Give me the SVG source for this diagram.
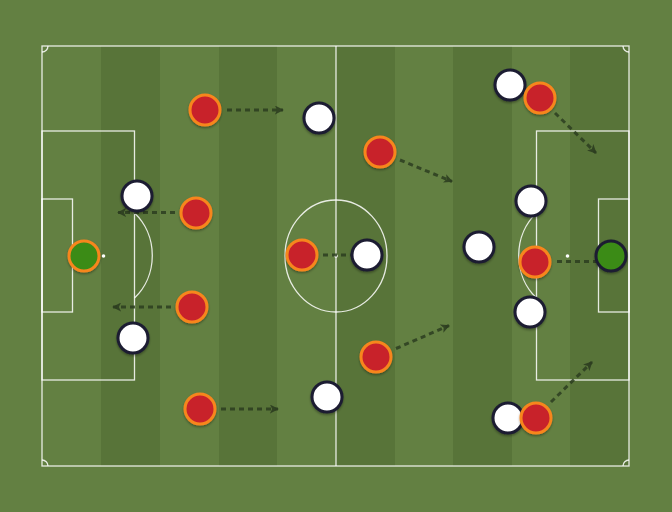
<svg xmlns="http://www.w3.org/2000/svg" width="672" height="512" viewBox="0 0 672 512">
<style>
.ln{fill:none;stroke:#ffffff;stroke-opacity:0.85;stroke-width:1.3}
.dk{fill:#587439}
.ar{fill:none;stroke:#2c3d20;stroke-opacity:0.85;stroke-width:3;stroke-dasharray:5 4}
.red{fill:#c8232c;stroke:#f7861f;stroke-width:3}
.wht{fill:#ffffff;stroke:#1c1d31;stroke-width:3}
.gkr{fill:#3b8b14;stroke:#f7861f;stroke-width:3}
.gkw{fill:#3b8b14;stroke:#1c1d31;stroke-width:3}
</style>
<defs>
<marker id="ah" viewBox="0 0 10 10" markerUnits="userSpaceOnUse" markerWidth="9" markerHeight="9" refX="9" refY="5" orient="auto">
<path d="M0,0 L10,5 L0,10 L2.5,5 z" fill="#2c3d20" fill-opacity="0.9"/>
</marker>
<filter id="sh" x="-30%" y="-30%" width="160%" height="170%">
<feDropShadow dx="0" dy="1.5" stdDeviation="1.2" flood-color="#000" flood-opacity="0.35"/>
</filter>
</defs>
<rect width="672" height="512" fill="#638042"/>
<g id="stripes">
<rect class="dk" x="101" y="46" width="59" height="420"/>
<rect class="dk" x="219" y="46" width="58" height="420"/>
<rect class="dk" x="336" y="46" width="59" height="420"/>
<rect class="dk" x="453" y="46" width="59" height="420"/>
<rect class="dk" x="570" y="46" width="59" height="420"/>
</g>
<g id="pitch">
<rect class="ln" x="42" y="46" width="587" height="420"/>
<line class="ln" x1="336" y1="46" x2="336" y2="466"/>
<ellipse class="ln" cx="336" cy="256" rx="51" ry="56"/>
<rect class="ln" x="42" y="131" width="92.5" height="249"/>
<rect class="ln" x="42" y="199" width="30.5" height="113"/>
<rect class="ln" x="536.5" y="131" width="92.5" height="249"/>
<rect class="ln" x="598.5" y="199" width="30.5" height="113"/>
<path class="ln" d="M134.5,213 A51,56 0 0 1 134.5,298"/>
<path class="ln" d="M536.5,213 A51,56 0 0 0 536.5,298"/>
<circle cx="103.5" cy="256" r="1.8" fill="#fff"/>
<circle cx="567.5" cy="256" r="1.8" fill="#fff"/>
<circle cx="336" cy="256" r="1.8" fill="#fff"/>
<path class="ln" d="M42,52 A6,6 0 0 0 48,46"/>
<path class="ln" d="M623,46 A6,6 0 0 0 629,52"/>
<path class="ln" d="M42,460 A6,6 0 0 1 48,466"/>
<path class="ln" d="M629,460 A6,6 0 0 0 623,466"/>
</g>
<g id="connectors">
<line class="ar" x1="227" y1="110" x2="283" y2="110" marker-end="url(#ah)"/>
<line class="ar" x1="400" y1="160" x2="452" y2="181.5" marker-end="url(#ah)"/>
<line class="ar" x1="175" y1="212.5" x2="118" y2="212.5" marker-end="url(#ah)"/>
<line class="ar" x1="171" y1="307" x2="113" y2="307" marker-end="url(#ah)"/>
<line class="ar" x1="323" y1="255" x2="352" y2="255"/>
<line class="ar" x1="396" y1="348.5" x2="449" y2="325.5" marker-end="url(#ah)"/>
<line class="ar" x1="221" y1="409" x2="278" y2="409" marker-end="url(#ah)"/>
<line class="ar" x1="555" y1="113" x2="596" y2="153" marker-end="url(#ah)"/>
<line class="ar" x1="557" y1="261.5" x2="597" y2="261.5"/>
<line class="ar" x1="551" y1="402" x2="592" y2="362" marker-end="url(#ah)"/>
</g>
<g id="white-team" filter="url(#sh)">
<g id="w1"><circle class="wht" cx="510" cy="85" r="15"/></g>
<g id="w2"><circle class="wht" cx="319" cy="118" r="15"/></g>
<g id="w3"><circle class="wht" cx="137" cy="196" r="15"/></g>
<g id="w4"><circle class="wht" cx="531" cy="201" r="15"/></g>
<g id="w5"><circle class="wht" cx="479" cy="247" r="15"/></g>
<g id="w6"><circle class="wht" cx="367" cy="255" r="15"/></g>
<g id="w7"><circle class="wht" cx="530" cy="312" r="15"/></g>
<g id="w8"><circle class="wht" cx="133" cy="338" r="15"/></g>
<g id="w9"><circle class="wht" cx="327" cy="397" r="15"/></g>
<g id="w10"><circle class="wht" cx="508" cy="418" r="15"/></g>
<g id="wgk"><circle class="gkw" cx="611" cy="256" r="15"/></g>
</g>
<g id="red-team" filter="url(#sh)">
<g id="r1"><circle class="red" cx="205" cy="110" r="15"/></g>
<g id="r2"><circle class="red" cx="380" cy="152" r="15"/></g>
<g id="r3"><circle class="red" cx="196" cy="213" r="15"/></g>
<g id="r4"><circle class="red" cx="302" cy="255" r="15"/></g>
<g id="r5"><circle class="red" cx="192" cy="307" r="15"/></g>
<g id="r6"><circle class="red" cx="376" cy="357" r="15"/></g>
<g id="r7"><circle class="red" cx="200" cy="409" r="15"/></g>
<g id="r8"><circle class="red" cx="540" cy="98" r="15"/></g>
<g id="r9"><circle class="red" cx="535" cy="262" r="15"/></g>
<g id="r10"><circle class="red" cx="536" cy="418" r="15"/></g>
<g id="rgk"><circle class="gkr" cx="84" cy="256" r="15"/></g>
</g>
</svg>
